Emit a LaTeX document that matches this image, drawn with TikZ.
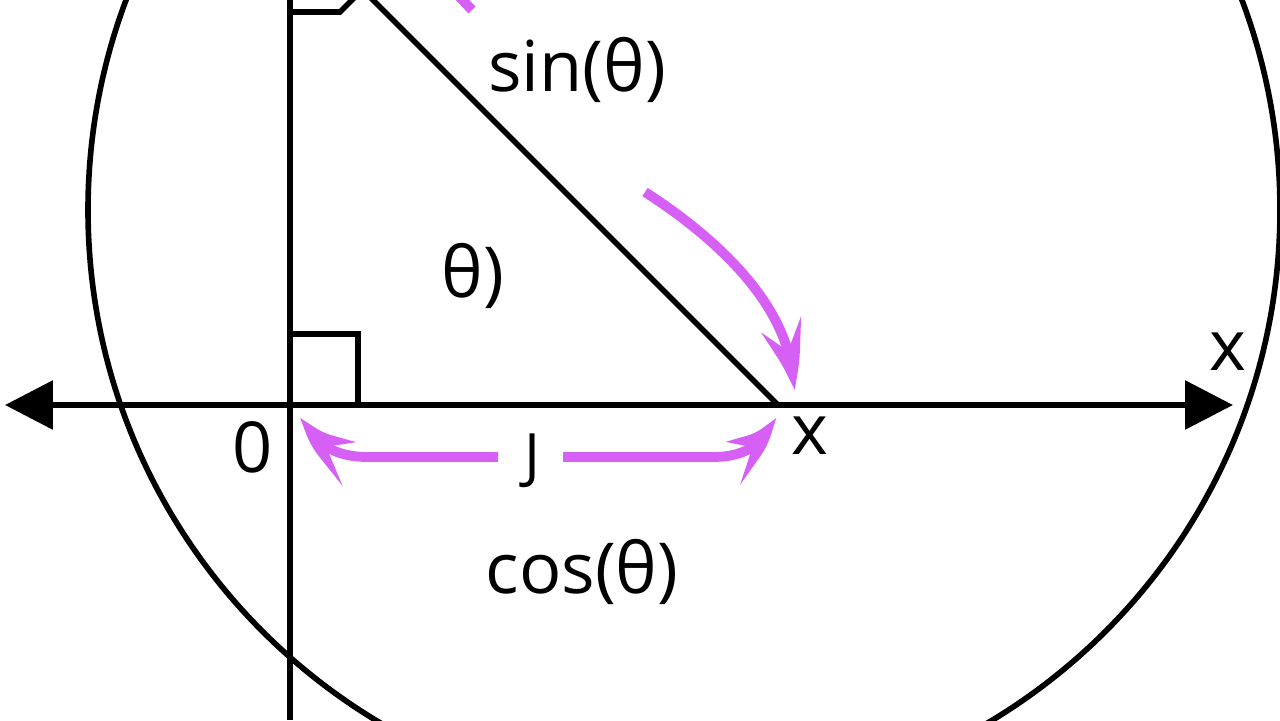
\documentclass[tikz,border=0pt]{standalone}
\usepackage{fontspec}
\setmainfont{Open Sans}
\usetikzlibrary{arrows.meta,bending}
\definecolor{arcpink}{RGB}{214,96,245}
\tikzset{
  axis/.style={line width=1.8pt},
  edge/.style={line width=1.6pt},
  sweep/.style={arcpink, line width=2.8pt, -{Stealth[length=6.5mm,width=4.2mm,inset=2.6mm,bend]}},
  lbl/.style={font=\fontsize{20}{24}\selectfont, inner sep=0pt}
}
\begin{document}
\begin{tikzpicture}[x=0.1mm,y=-0.1mm]
  \useasboundingbox (0,0) rectangle (1280,720);
  \clip (0,0) rectangle (1280,720);
  \coordinate (O) at (290,405);
  \coordinate (X) at (778,405);
  \coordinate (A) at (290,-83);
  \coordinate (C) at (684,210);
  \coordinate (W) at (5,405);
  \coordinate (E) at (1233,405);
  \coordinate (N) at (290,0);
  \coordinate (S) at (290,720);

  \draw[edge] (C) circle[radius=59.6mm];
  \draw[axis, {Triangle[length=4.8mm,width=4.8mm]}-{Triangle[length=4.8mm,width=4.8mm]}] (W) -- (E);
  \draw[axis] (N) -- (S);
  \draw[edge] (A) -- (X);
  % right angles
  \draw[edge] (O) ++(0,-71) -| ++(68,71);
  \draw[edge] (290,12) -- (340,12) -- (358,-6);

  \draw[sweep] (645,192) .. controls (735,250) and (795,320) .. (793,390);
  \draw[arcpink, line width=2.8pt] (455,-8) -- (472,10);
  \draw[sweep] (498,457) -- (368,457) .. controls (330,457) and (312,440) .. (303,416);
  \draw[sweep] (563,457) -- (712,457) .. controls (745,457) and (765,445) .. (773,416);

  \node[lbl] (sin) at (577,70) {sin(θ)};
  \node[lbl] (ang) at (473,276) {θ)};
  \node[lbl] (xa) at (1228,352) {x};
  \node[lbl] (zero) at (253,447) {0};
  \node[lbl] (xp) at (810,436) {x};
  \node[lbl] (cos) at (582,572) {cos(θ)};
  \node[lbl, font=\fontsize{17}{20}\selectfont] (j) at (532,461) {J};
\end{tikzpicture}
\end{document}
